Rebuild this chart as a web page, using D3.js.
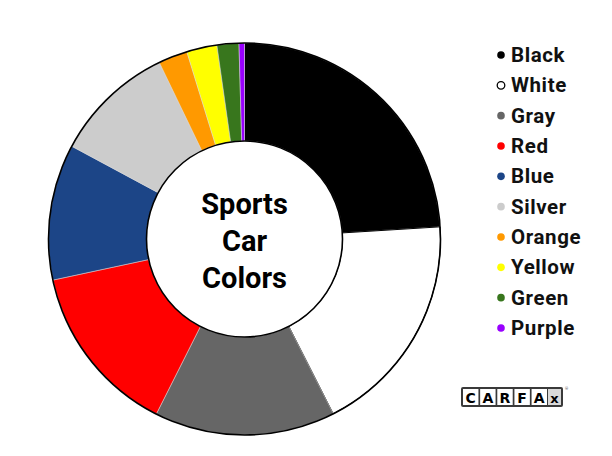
<!DOCTYPE html>
<html>
<head>
<meta charset="utf-8">
<script src="https://cdn.jsdelivr.net/npm/d3@7"></script>
<style>
  html, body { margin: 0; padding: 0; background: #fff; }
  svg { display: block; font-family: Roboto, "Noto Sans", sans-serif; }
</style>
</head>
<body>
<svg id="chart"></svg>
<script>
// data (share of sports cars, %)
const categories = ['Black', 'White', 'Gray', 'Red', 'Blue', 'Silver', 'Orange', 'Yellow', 'Green', 'Purple']
const shares = [24.0, 18.5, 14.9, 14.2, 11.2, 10.0, 2.4, 2.5, 1.8, 0.45]
const sliceColors = ['#000000', '#ffffff', '#666666', '#ff0000', '#1c4587', '#cccccc', '#ff9900', '#ffff00', '#38761d', '#9900ff']
const centerTitle = ['Sports', 'Car', 'Colors']
const logoLetters = ['C', 'A', 'R', 'F', 'A']

const width = 612
const height = 456
const cx = 244.5, cy = 239
const outerR = 196, innerR = 98

const svg = d3.select('#chart')
    .attr('width', width)
    .attr('height', height)
    .attr('viewBox', `0 0 ${width} ${height}`)

const data = categories.map((c, i) => ({label: c, value: shares[i], color: sliceColors[i]}))

const color = d3.scaleOrdinal()
    .domain(categories)
    .range(sliceColors)

// donut
    const pie = d3.pie()
        .sort(null)
        .value(d => d.value)
    const arc = d3.arc()
        .innerRadius(innerR)
        .outerRadius(outerR)

    const g = svg.append('g')
        .attr('transform', `translate(${cx}, ${cy})`)

    g.selectAll('.slice')
        .data(pie(data))
        .enter()
        .append('path')
            .attr('class', 'slice')
            .attr('d', arc)
            .attr('fill', d => color(d.data.label))
            .attr('stroke', d => d.data.label === 'White' ? '#000' : '#d8d8d8')
            .attr('stroke-width', d => d.data.label === 'White' ? 1 : 0.5)

    // outlines round the ring
    g.append('circle')
        .attr('r', outerR)
        .attr('fill', 'none')
        .attr('stroke', '#000')
        .attr('stroke-width', 1.6)
    g.append('circle')
        .attr('r', innerR)
        .attr('fill', '#fff')
        .attr('stroke', '#000')
        .attr('stroke-width', 1.6)

    g.selectAll('.title')
        .data(centerTitle)
        .enter()
        .append('text')
            .attr('class', 'title')
            .attr('x', 0)
            .attr('y', (d, i) => -25 + i * 37)
            .attr('text-anchor', 'middle')
            .style('font-size', '29px')
            .style('font-weight', 'bold')
            .style('fill', '#000')
            .text(d => d)

// legend
    const legendY = d3.scalePoint()
        .domain(categories)
        .range([55, 328])

    const legend = svg.append('g')
        .selectAll('.item')
        .data(data)
        .enter()
        .append('g')
            .attr('class', 'item')
            .attr('transform', d => `translate(501, ${legendY(d.label)})`)

    legend.append('circle')
        .attr('r', 3.8)
        .attr('fill', d => color(d.label))
        .attr('stroke', d => d.label === 'White' ? '#000' : 'none')
        .attr('stroke-width', 1.3)

    legend.append('text')
        .attr('x', 10)
        .attr('y', 7)
        .style('font-size', '20.5px')
        .style('font-weight', 'bold')
        .style('letter-spacing', '0.6px')
        .style('fill', '#111')
        .text(d => d.label)

// CARFAX badge
    const logo = svg.append('g')
        .attr('transform', 'translate(461, 387)')
    logo.append('rect')
        .attr('width', 102)
        .attr('height', 20)
        .attr('rx', 2)
        .attr('fill', '#3a3a3a')
    const boxX = d3.scaleBand()
        .domain(d3.range(logoLetters.length))
        .range([2, 86])
        .paddingInner(0.1)
    logo.selectAll('.lb')
        .data(logoLetters)
        .enter()
        .append('rect')
            .attr('class', 'lb')
            .attr('x', (d, i) => boxX(i))
            .attr('y', 2)
            .attr('width', boxX.bandwidth())
            .attr('height', 16)
            .attr('fill', '#fff')
    logo.selectAll('.lt')
        .data(logoLetters)
        .enter()
        .append('text')
            .attr('class', 'lt')
            .attr('x', (d, i) => boxX(i) + boxX.bandwidth() / 2)
            .attr('y', 15.5)
            .attr('text-anchor', 'middle')
            .style('font-family', '"DejaVu Sans", sans-serif')
            .style('font-size', '14px')
            .style('font-weight', 'bold')
            .style('fill', '#000')
            .text(d => d)
    logo.append('rect')
        .attr('x', 87)
        .attr('y', 2)
        .attr('width', 13)
        .attr('height', 16)
        .attr('fill', '#d9d9d9')
    logo.append('text')
        .attr('x', 93.5)
        .attr('y', 16)
        .attr('text-anchor', 'middle')
        .style('font-family', '"DejaVu Sans", sans-serif')
        .style('font-size', '13px')
        .style('font-weight', 'bold')
        .style('fill', '#000')
        .text('x')
    logo.append('text')
        .attr('x', 104)
        .attr('y', 3)
        .style('font-size', '4px')
        .style('fill', '#555')
        .text('®')
</script>
</body>
</html>
